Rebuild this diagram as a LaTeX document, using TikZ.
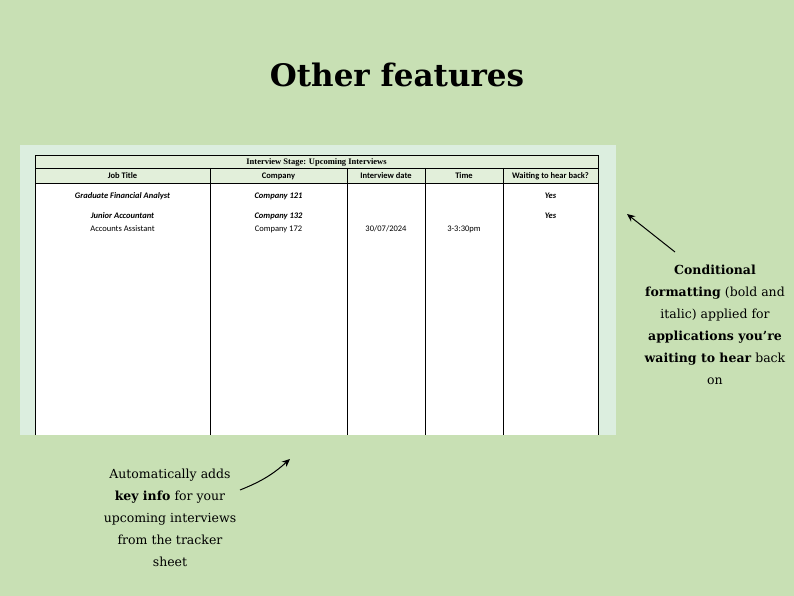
\documentclass[tikz,border=0pt]{standalone}
\usepackage{fontspec}
\setmainfont{DejaVu Serif}
\newfontfamily\calib{Carlito}
\newfontfamily\tnr{Liberation Serif}
\usetikzlibrary{arrows.meta}
\definecolor{bg}{HTML}{C8E0B4}
\definecolor{pane}{HTML}{DCEEDF}
\definecolor{hdr}{HTML}{E2EFDA}
\tikzset{
  cell/.style={font=\calib\fontsize{8.5}{9}\selectfont},
  note/.style={align=center,font=\fontsize{12.5}{22}\selectfont},
  arr/.style={-{Stealth[length=8pt,width=7pt]},line width=1pt}
}
\begin{document}
\begin{tikzpicture}[x=1pt,y=-1pt]
\fill[bg] (0,0) rectangle (794,596);
\useasboundingbox (0,0) rectangle (794,596);
\node (title) at (397,75) {\fontsize{31}{34}\selectfont\bfseries Other features};
\fill[pane] (20,145) rectangle (616,435);
\fill[white] (35,155) rectangle (598,435);
\fill[hdr] (35,155) rectangle (598,183);
\draw[line width=0.6pt] (35,435) -- (35,155) -- (598,155) -- (598,435);
\draw[line width=0.5pt] (35,168) -- (598,168) (35,183) -- (598,183);
\foreach \x in {210,347,425,503} \draw[line width=0.5pt] (\x,168) -- (\x,435);
\node (stage) at (316.5,162) {\tnr\fontsize{8.5}{9}\selectfont\bfseries Interview Stage: Upcoming Interviews};
\node[cell] (h1) at (122.5,176) {\bfseries Job Title};
\node[cell] (h2) at (278.5,176) {\bfseries Company};
\node[cell] (h3) at (386,176) {\bfseries Interview date};
\node[cell] (h4) at (464,176) {\bfseries Time};
\node[cell] (h5) at (550.5,176) {\bfseries Waiting to hear back?};
\node[cell] (a1) at (122.5,196) {\bfseries\itshape Graduate Financial Analyst};
\node[cell] (a2) at (278.5,196) {\bfseries\itshape Company 121};
\node[cell] (a5) at (550.5,196) {\bfseries\itshape Yes};
\node[cell] (b1) at (122.5,216) {\bfseries\itshape Junior Accountant};
\node[cell] (b2) at (278.5,216) {\bfseries\itshape Company 132};
\node[cell] (b5) at (550.5,216) {\bfseries\itshape Yes};
\node[cell] (c1) at (122.5,229) {Accounts Assistant};
\node[cell] (c2) at (278.5,229) {Company 172};
\node[cell] (c3) at (386,229) {30/07/2024};
\node[cell] (c4) at (464,229) {3-3:30pm};
\node[note] (rn) at (715,325) {\textbf{Conditional}\\\textbf{formatting} (bold and\\italic) applied for\\\textbf{applications you’re}\\\textbf{waiting to hear} back\\on};
\node[note] (ln) at (170,518) {Automatically adds\\\textbf{key info} for your\\upcoming interviews\\from the tracker\\sheet};
\coordinate (r0) at (675,252); \coordinate (r1) at (627,214);
\coordinate (l0) at (240,490); \coordinate (l1) at (290,459);
\draw[arr] (r0) -- (r1);
\draw[arr] (l0) to[bend right=10] (l1);
\end{tikzpicture}
\end{document}
